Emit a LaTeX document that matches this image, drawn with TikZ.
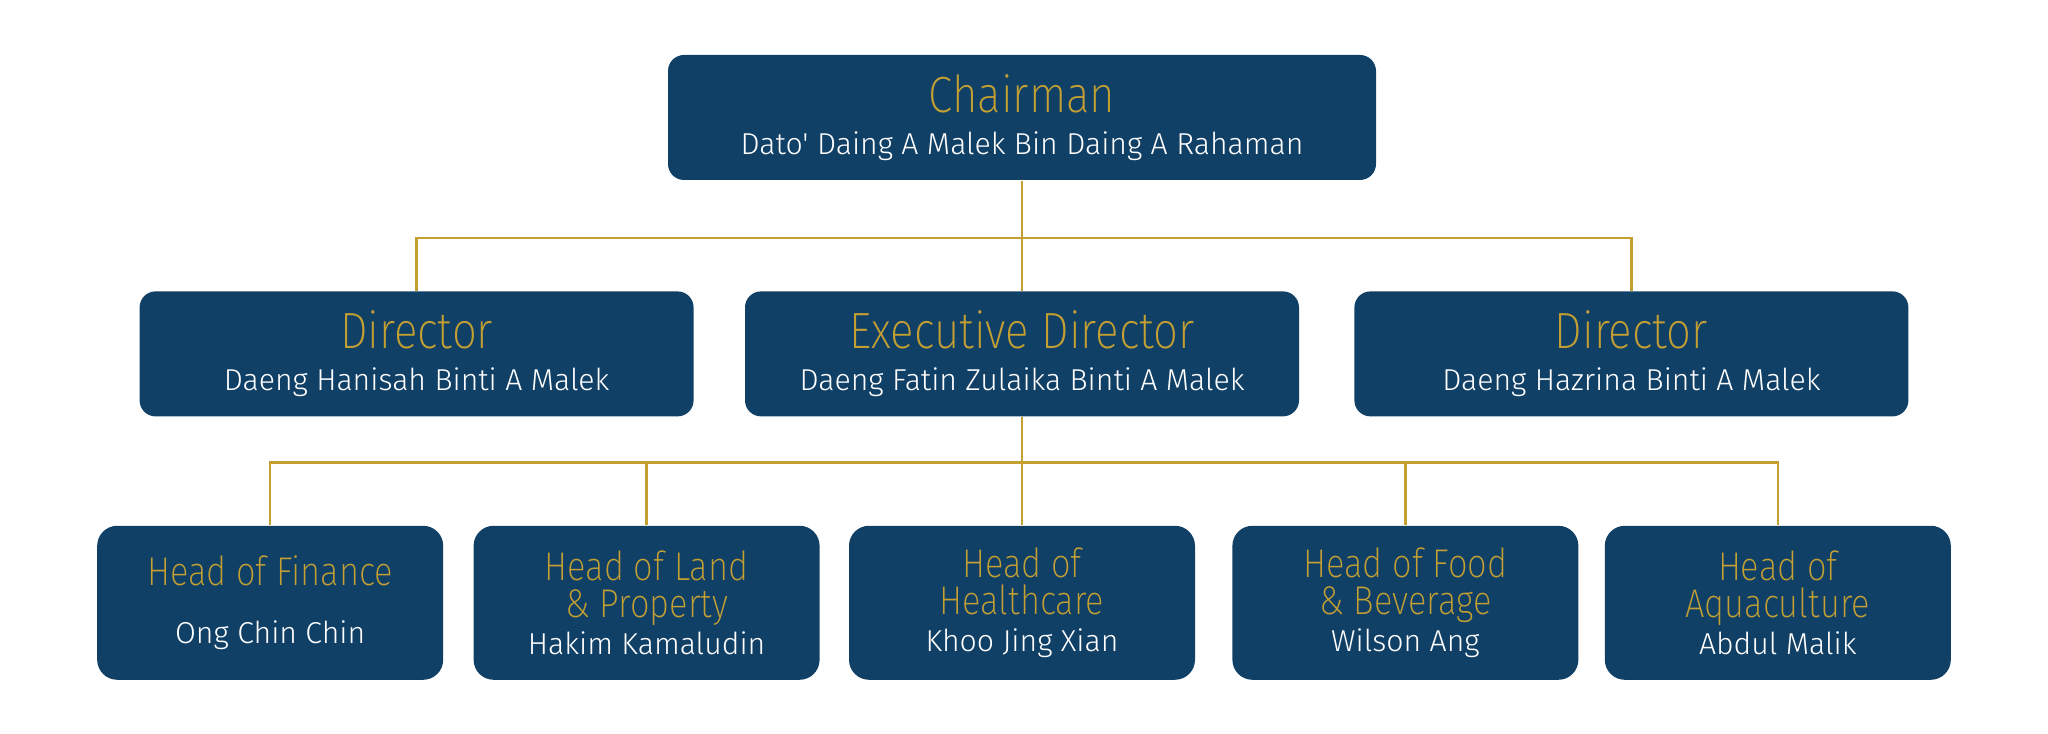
\documentclass[tikz,border=0pt]{standalone}
\usepackage{fontspec}
\newfontfamily\namefont{Fira Sans Light}
\newfontfamily\titlefont[FakeStretch=0.86]{Fira Sans ExtraLight}
\usetikzlibrary{positioning,calc}

\definecolor{navy}{RGB}{17,64,103}
\definecolor{gold}{RGB}{196,160,50}

\newcommand{\nmstyle}{\namefont\fontsize{8.6}{10}\selectfont\color{white}}

\begin{document}
\begin{tikzpicture}[
  every node/.style={inner sep=0pt},
  box/.style={fill=navy, rounded corners=1.6mm, align=center, minimum height=12.5mm, text=gold},
  topbox/.style={box, minimum width=70.8mm, font=\titlefont\fontsize{14.5}{12}\selectfont},
  dirbox/.style={box, minimum width=55.4mm, font=\titlefont\fontsize{14.5}{12}\selectfont},
  headbox/.style={box, minimum width=34.6mm, minimum height=15.4mm, rounded corners=2mm,
                  font=\titlefont\fontsize{11.4}{10.6}\selectfont},
  link/.style={draw=gold, line width=0.7pt},
]
\useasboundingbox (0,0) rectangle (20.48,7.34);
% ---- chairman ----
\node[topbox] (chair) at (10.22,6.165)
  {Chairman\\\nmstyle Dato' Daing A Malek Bin Daing A Rahaman};
% ---- directors ----
\node[dirbox, below=11mm of chair] (exec)
  {Executive Director\\\nmstyle Daeng Fatin Zulaika Binti A Malek};
\node[dirbox, left=5mm of exec] (dirl)
  {Director\\\nmstyle Daeng Hanisah Binti A Malek};
\node[dirbox, right=5.4mm of exec] (dirr)
  {Director\\\nmstyle Daeng Hazrina Binti A Malek};
% ---- heads ----
\node[headbox, below=10.8mm of exec] (care)
  {Head of\\Healthcare\\\nmstyle Khoo Jing Xian};
\node[headbox, left=2.8mm of care] (land)
  {Head of Land\\\& Property\\\nmstyle Hakim Kamaludin};
\node[headbox, left=2.9mm of land] (fin)
  {Head of Finance\\[6pt]\nmstyle Ong Chin Chin};
\node[headbox, right=3.6mm of care] (food)
  {Head of Food\\\& Beverage\\\nmstyle Wilson Ang};
\node[headbox, right=2.5mm of food] (aqua)
  {Head of\\Aquaculture\\\nmstyle Abdul Malik};
% ---- connectors ----
\coordinate (bus1) at ($(chair.south)!0.52!(exec.north)$);
\draw[link] (chair.south) -- (exec.north);
\draw[link] (dirl.north) |- (bus1) -| (dirr.north);
\coordinate (bus2) at ($(exec.south)!0.42!(care.north)$);
\draw[link] (exec.south) -- (care.north);
\draw[link] (fin.north) |- (bus2) -| (aqua.north);
\draw[link] (land.north) -- (land.north |- bus2);
\draw[link] (food.north) -- (food.north |- bus2);
\end{tikzpicture}
\end{document}
